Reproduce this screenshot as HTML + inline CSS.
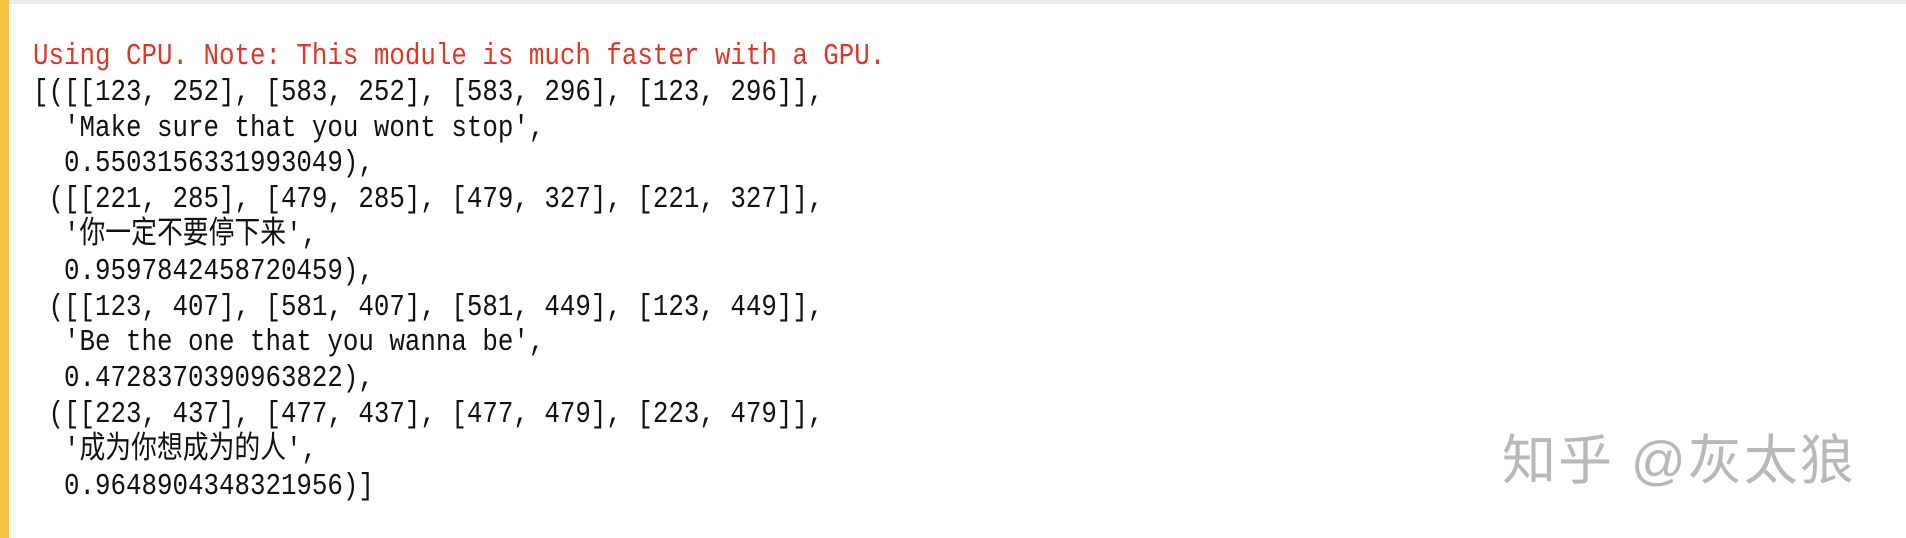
<!DOCTYPE html>
<html><head><meta charset="utf-8"><style>
html,body{margin:0;padding:0;width:1906px;height:538px;overflow:hidden;background:#fff;}
.bar{position:absolute;left:0;top:0;width:9px;height:538px;background:#f4c245;}
.top{position:absolute;left:0;top:0;width:1906px;height:4px;background:#ececec;}
pre{position:absolute;left:33px;top:39px;margin:0;font-family:"Liberation Mono","Noto Sans CJK SC",monospace;font-size:31px;line-height:35.8px;color:#111;transform:scaleX(0.833);transform-origin:0 0;}
.r{color:#d63a2d;}
.wm{position:absolute;left:1502px;top:430px;font-family:"Liberation Sans","Noto Sans CJK SC",sans-serif;font-size:54px;letter-spacing:2px;color:#b8b8b8;white-space:nowrap;line-height:62px;}
</style></head><body>
<div class="top"></div><div class="bar"></div>
<pre><span class="r">Using CPU. Note: This module is much faster with a GPU.</span>
[([[123, 252], [583, 252], [583, 296], [123, 296]],
  'Make sure that you wont stop',
  0.5503156331993049),
 ([[221, 285], [479, 285], [479, 327], [221, 327]],
  '你一定不要停下来',
  0.9597842458720459),
 ([[123, 407], [581, 407], [581, 449], [123, 449]],
  'Be the one that you wanna be',
  0.4728370390963822),
 ([[223, 437], [477, 437], [477, 479], [223, 479]],
  '成为你想成为的人',
  0.9648904348321956)]</pre>
<div class="wm">知乎 @灰太狼</div>
</body></html>
